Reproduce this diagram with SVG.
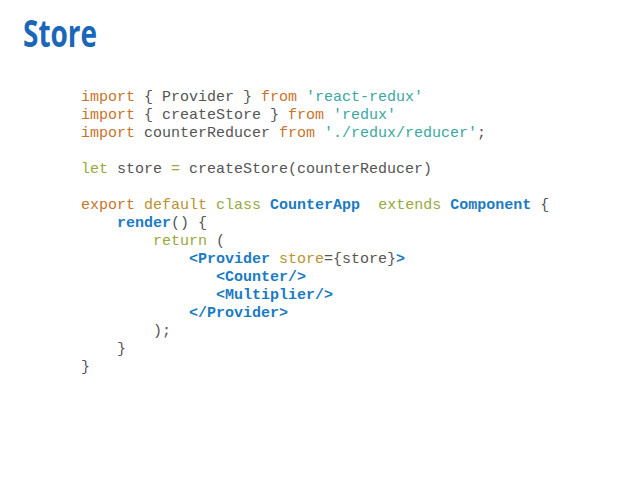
<svg xmlns="http://www.w3.org/2000/svg" width="638" height="479" viewBox="0 0 638 479">
<style>
.code{font-family:"Liberation Mono","Courier New",monospace;font-size:15px;fill:#555555;white-space:pre}
.kw{fill:#c8732a}
.df{fill:#b8922e}
.ol{fill:#98a83c}
.st{fill:#3aa8a2}
.bl{fill:#1b7bc2;font-weight:bold}
.title{font-family:"Open Sans","Noto Sans",sans-serif;font-weight:bold;font-size:38px;fill:#1a66b8}
</style>
<rect width="638" height="479" fill="#ffffff"/>
<g id="title">
<text class="title" x="23" y="47" textLength="74" lengthAdjust="spacingAndGlyphs">Store</text>
</g>
<g id="code">
<text class="code" x="81" y="101"><tspan class="kw">import</tspan> { Provider } <tspan class="kw">from</tspan> <tspan class="st">'react-redux'</tspan></text>
<text class="code" x="81" y="119"><tspan class="kw">import</tspan> { createStore } <tspan class="kw">from</tspan> <tspan class="st">'redux'</tspan></text>
<text class="code" x="81" y="137"><tspan class="kw">import</tspan> counterReducer <tspan class="kw">from</tspan> <tspan class="st">'./redux/reducer'</tspan>;</text>
<text class="code" x="81" y="173"><tspan class="ol">let</tspan> store <tspan class="ol">=</tspan> createStore(counterReducer)</text>
<text class="code" x="81" y="209"><tspan class="kw">export</tspan> <tspan class="df">default</tspan> <tspan class="ol">class</tspan> <tspan class="bl">CounterApp</tspan>  <tspan class="ol">extends</tspan> <tspan class="bl">Component</tspan> {</text>
<text class="code" x="117" y="227"><tspan class="bl">render</tspan>() {</text>
<text class="code" x="153" y="245"><tspan class="ol">return</tspan> (</text>
<text class="code" x="189" y="263"><tspan class="bl">&lt;Provider</tspan> <tspan class="df">store</tspan>={store}<tspan class="bl">&gt;</tspan></text>
<text class="code" x="216" y="281"><tspan class="bl">&lt;Counter/&gt;</tspan></text>
<text class="code" x="216" y="299"><tspan class="bl">&lt;Multiplier/&gt;</tspan></text>
<text class="code" x="189" y="317"><tspan class="bl">&lt;/Provider&gt;</tspan></text>
<text class="code" x="153" y="335">);</text>
<text class="code" x="117" y="353">}</text>
<text class="code" x="81" y="371">}</text>
</g>
</svg>
